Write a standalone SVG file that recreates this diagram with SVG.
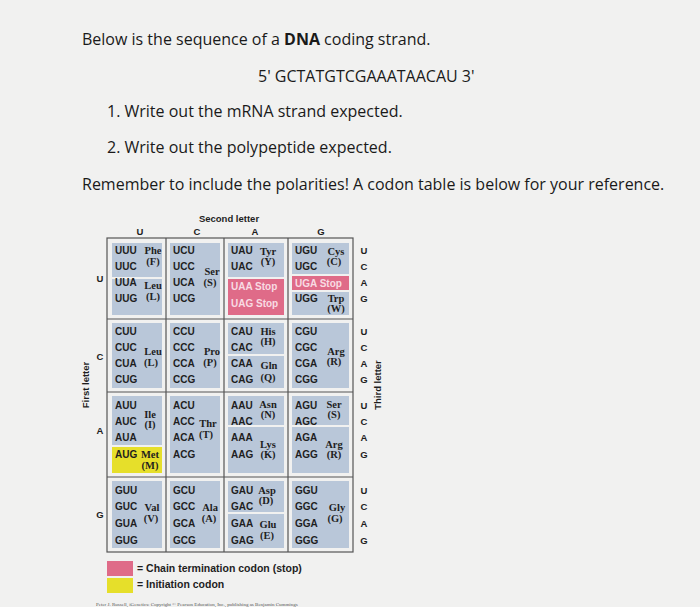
<svg xmlns="http://www.w3.org/2000/svg" width="700" height="607" viewBox="0 0 700 607">
<style>
.h{font-family:"Open Sans","Liberation Sans",sans-serif;font-size:16px;fill:#1a1a1a}
.c{font-family:"Liberation Sans",sans-serif;font-weight:bold;font-size:10px;fill:#1e1e1e}
.a{font-family:"Liberation Serif",serif;font-weight:bold;font-size:10.5px;fill:#1e1e1e;text-anchor:middle}
.l{font-family:"Liberation Sans",sans-serif;font-weight:bold;font-size:9.5px;fill:#1e1e1e;text-anchor:middle}
.b{fill:#b9c7d9}
.p{fill:#df6b88}
.y{fill:#e6df2a}
.s{fill:#f8dbe3}
.g{fill:none;stroke:#555;stroke-width:1.2}
</style>
<rect width="700" height="607" fill="#f1f1f0"/>
<g id="text">
<text class="h" x="82" y="45">Below is the sequence of a <tspan font-weight="bold">DNA</tspan> coding strand.</text>
<text class="h" x="258" y="82">5' GCTATGTCGAAATAACAU 3'</text>
<text class="h" x="107" y="117">1. Write out the mRNA strand expected.</text>
<text class="h" x="107" y="153">2. Write out the polypeptide expected.</text>
<text class="h" x="82" y="190">Remember to include the polarities! A codon table is below for your reference.</text>
</g>
<g id="table">
<text class="l" x="229" y="222">Second letter</text>
<text class="l" x="140" y="235">U</text><text class="l" x="197" y="235">C</text><text class="l" x="255" y="235">A</text><text class="l" x="321" y="235">G</text>
<text class="l" x="89" y="385" transform="rotate(-90 89 385)">First letter</text>
<text class="l" x="381" y="385" transform="rotate(-90 381 385)">Third letter</text>
<g class="l"><text x="100" y="282">U</text><text x="100" y="360">C</text><text x="100" y="434">A</text><text x="100" y="518">G</text></g>
<g class="l">
<text x="364" y="254">U</text><text x="364" y="270">C</text><text x="364" y="286">A</text><text x="364" y="302">G</text>
<text x="364" y="335">U</text><text x="364" y="351">C</text><text x="364" y="367">A</text><text x="364" y="383">G</text>
<text x="364" y="409">U</text><text x="364" y="425">C</text><text x="364" y="441">A</text><text x="364" y="458">G</text>
<text x="364" y="494">U</text><text x="364" y="510">C</text><text x="364" y="527">A</text><text x="364" y="544">G</text>
</g>
<rect x="107" y="238" width="246" height="314" fill="#fff" class="g"/>
<path class="g" d="M166 238V552M224 238V552M288 238V552M107 319H353M107 392H353M107 477H353"/>
<rect class="b" x="112" y="243" width="50" height="34"/><rect class="b" x="112" y="279" width="50" height="36"/>
<rect class="b" x="170" y="243" width="50" height="72"/>
<rect class="b" x="228" y="243" width="56" height="34"/><rect class="p" x="228" y="279" width="56" height="36"/>
<rect class="b" x="292" y="243" width="57" height="31"/><rect class="p" x="292" y="276" width="57" height="14"/><rect class="b" x="292" y="292" width="57" height="23"/>
<rect class="b" x="112" y="323" width="50" height="65"/><rect class="b" x="170" y="323" width="50" height="65"/>
<rect class="b" x="228" y="323" width="56" height="31"/><rect class="b" x="228" y="356" width="56" height="32"/>
<rect class="b" x="292" y="323" width="57" height="65"/>
<rect class="b" x="112" y="396" width="50" height="49"/><rect class="y" x="112" y="447" width="50" height="26"/>
<rect class="b" x="170" y="396" width="50" height="77"/>
<rect class="b" x="228" y="396" width="56" height="29"/><rect class="b" x="228" y="427" width="56" height="46"/>
<rect class="b" x="292" y="396" width="57" height="29"/><rect class="b" x="292" y="427" width="57" height="46"/>
<rect class="b" x="112" y="481" width="50" height="67"/><rect class="b" x="170" y="481" width="50" height="67"/>
<rect class="b" x="228" y="481" width="56" height="31"/><rect class="b" x="228" y="514" width="56" height="34"/>
<rect class="b" x="292" y="481" width="57" height="67"/>
<g class="c">
<text x="115" y="254">UUU</text><text x="115" y="270">UUC</text><text x="115" y="286">UUA</text><text x="115" y="302">UUG</text>
<text x="173" y="254">UCU</text><text x="173" y="270">UCC</text><text x="173" y="286">UCA</text><text x="173" y="302">UCG</text>
<text x="231" y="254">UAU</text><text x="231" y="270">UAC</text><text class="s" x="231" y="290">UAA  Stop</text><text class="s" x="231" y="307">UAG  Stop</text>
<text x="295" y="254">UGU</text><text x="295" y="270">UGC</text><text class="s" x="295" y="287">UGA Stop</text><text x="295" y="302">UGG</text>
<text x="115" y="335">CUU</text><text x="115" y="351">CUC</text><text x="115" y="367">CUA</text><text x="115" y="383">CUG</text>
<text x="173" y="335">CCU</text><text x="173" y="351">CCC</text><text x="173" y="367">CCA</text><text x="173" y="383">CCG</text>
<text x="231" y="335">CAU</text><text x="231" y="351">CAC</text><text x="231" y="367">CAA</text><text x="231" y="383">CAG</text>
<text x="295" y="335">CGU</text><text x="295" y="351">CGC</text><text x="295" y="367">CGA</text><text x="295" y="383">CGG</text>
<text x="115" y="409">AUU</text><text x="115" y="425">AUC</text><text x="115" y="441">AUA</text><text x="115" y="458">AUG</text>
<text x="173" y="409">ACU</text><text x="173" y="425">ACC</text><text x="173" y="441">ACA</text><text x="173" y="458">ACG</text>
<text x="231" y="409">AAU</text><text x="231" y="425">AAC</text><text x="231" y="441">AAA</text><text x="231" y="458">AAG</text>
<text x="295" y="409">AGU</text><text x="295" y="425">AGC</text><text x="295" y="441">AGA</text><text x="295" y="458">AGG</text>
<text x="115" y="494">GUU</text><text x="115" y="510">GUC</text><text x="115" y="527">GUA</text><text x="115" y="544">GUG</text>
<text x="173" y="494">GCU</text><text x="173" y="510">GCC</text><text x="173" y="527">GCA</text><text x="173" y="544">GCG</text>
<text x="231" y="494">GAU</text><text x="231" y="510">GAC</text><text x="231" y="527">GAA</text><text x="231" y="544">GAG</text>
<text x="295" y="494">GGU</text><text x="295" y="510">GGC</text><text x="295" y="527">GGA</text><text x="295" y="544">GGG</text>
</g>
<g class="a">
<text x="153" y="254">Phe</text><text x="153" y="265">(F)</text>
<text x="153" y="289">Leu</text><text x="153" y="300">(L)</text>
<text x="212" y="275">Ser</text><text x="210" y="286">(S)</text>
<text x="268" y="255">Tyr</text><text x="268" y="265">(Y)</text>
<text x="336" y="255">Cys</text><text x="334" y="265">(C)</text>
<text x="336" y="302">Trp</text><text x="336" y="312">(W)</text>
<text x="153" y="355">Leu</text><text x="151" y="366">(L)</text>
<text x="212" y="355">Pro</text><text x="210" y="366">(P)</text>
<text x="268" y="335">His</text><text x="268" y="345">(H)</text>
<text x="269" y="369">Gln</text><text x="268" y="381">(Q)</text>
<text x="336" y="355">Arg</text><text x="334" y="365">(R)</text>
<text x="150" y="418">Ile</text><text x="150" y="428">(I)</text>
<text x="150" y="458">Met</text><text x="150" y="469">(M)</text>
<text x="208" y="427">Thr</text><text x="206" y="438">(T)</text>
<text x="268" y="408">Asn</text><text x="268" y="418">(N)</text>
<text x="268" y="448">Lys</text><text x="268" y="458">(K)</text>
<text x="334" y="408">Ser</text><text x="334" y="418">(S)</text>
<text x="334" y="448">Arg</text><text x="334" y="458">(R)</text>
<text x="152" y="511">Val</text><text x="151" y="522">(V)</text>
<text x="210" y="511">Ala</text><text x="209" y="522">(A)</text>
<text x="267" y="494">Asp</text><text x="266" y="504">(D)</text>
<text x="268" y="528">Glu</text><text x="267" y="539">(E)</text>
<text x="337" y="511">Gly</text><text x="335" y="522">(G)</text>
</g>
</g>
<g id="legend">
<rect class="p" x="107" y="561" width="26" height="15"/>
<rect class="y" x="107" y="578" width="26" height="15"/>
<text class="c" x="137" y="572" style="font-size:10.5px">= Chain termination codon (stop)</text>
<text class="c" x="137" y="588" style="font-size:10.5px">= Initiation codon</text>
<text x="96" y="606" style="font-family:'Liberation Serif',serif;font-size:5px;fill:#555">Peter J. Russell, iGenetics: Copyright © Pearson Education, Inc., publishing as Benjamin Cummings</text>
</g>
</svg>
